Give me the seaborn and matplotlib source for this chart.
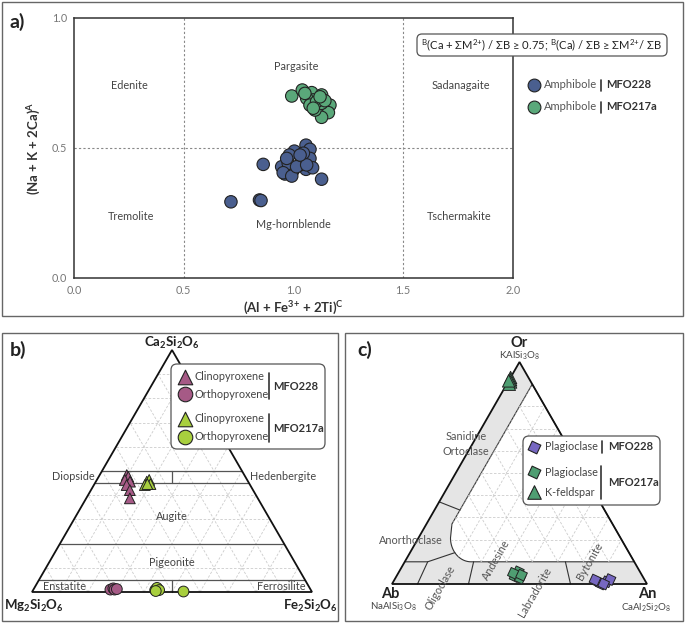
import numpy as np
import pandas as pd
import matplotlib
matplotlib.use("Agg")
import matplotlib.pyplot as plt
import seaborn as sns
from matplotlib.patches import Polygon, FancyBboxPatch, Rectangle

# ---------------- DATA ----------------
# Panel a: amphibole classification, x = (Al + Fe3+ + 2Ti)C, y = (Na + K + 2Ca)A
amph_228_x = [0.715, 0.845, 0.852, 0.862, 1.128, 1.057, 1.004, 0.981, 1.075, 1.037, 1.075, 0.946, 0.961,
              0.999, 1.057, 1.087, 1.030, 0.976, 1.045, 0.953, 0.992, 1.014, 1.060, 0.969, 1.030]
amph_228_y = [0.293, 0.300, 0.298, 0.437, 0.380, 0.511, 0.488, 0.473, 0.495, 0.454, 0.460, 0.428, 0.400,
              0.415, 0.418, 0.424, 0.435, 0.441, 0.480, 0.405, 0.392, 0.428, 0.435, 0.460, 0.473]
amph_217_x = [0.992, 1.040, 1.083, 1.128, 1.166, 1.159, 1.128, 1.098, 1.090, 1.060, 1.128, 1.075, 1.105,
              1.143, 1.052, 1.121, 1.090]
amph_217_y = [0.700, 0.723, 0.713, 0.704, 0.665, 0.636, 0.618, 0.646, 0.685, 0.691, 0.672, 0.665, 0.678,
              0.682, 0.710, 0.697, 0.653]

# Panel b: pyroxene fractions Wo (Ca2Si2O6) and Fs (Fe2Si2O6); En = 1 - Wo - Fs
cpx_228_wo = [0.483, 0.476, 0.463, 0.456, 0.442, 0.421, 0.387]
cpx_228_fs = [0.097, 0.106, 0.100, 0.122, 0.117, 0.139, 0.156]
opx_228_wo = [0.010, 0.015, 0.010, 0.012]
opx_228_fs = [0.275, 0.283, 0.290, 0.297]
cpx_217_wo = [0.456, 0.463, 0.442, 0.446, 0.446]
cpx_217_fs = [0.182, 0.187, 0.182, 0.200, 0.189]
opx_217_wo = [0.008, 0.017, 0.008, 0.004, 0.002]
opx_217_fs = [0.436, 0.438, 0.450, 0.440, 0.540]

# Panel c: feldspar fractions An (CaAl2Si2O8) and Or (KAlSi3O8); Ab = 1 - An - Or
plag_228_an = [0.800, 0.820, 0.837, 0.845, 0.830, 0.787]
plag_228_or = [0.010, 0.000, 0.010, 0.020, 0.000, 0.018]
plag_217_an = [0.468, 0.466, 0.489, 0.452, 0.488]
plag_217_or = [0.055, 0.033, 0.026, 0.048, 0.040]
kfs_217_an = [0.000, 0.005, 0.010, 0.010, 0.000]
kfs_217_or = [0.930, 0.920, 0.910, 0.900, 0.915]

# ---------------- STYLE ----------------
sns.set_theme(style="white")
plt.rcParams["font.family"] = ["Lato", "DejaVu Sans"]
plt.rcParams["mathtext.fontset"] = "custom"
plt.rcParams["mathtext.rm"] = "Lato"
plt.rcParams["mathtext.it"] = "Lato:italic"
plt.rcParams["mathtext.bf"] = "Lato:bold"

C_BLUE = "#4a5f8f"
C_GREEN_A = "#5aa87a"
C_MAUVE = "#a65a86"
C_LIME = "#a8cf3e"
C_PURPLE = "#7667c1"
C_GREEN_F = "#4f9e72"
TXT = "#444444"

W, H = 685, 623
fig = plt.figure(figsize=(W / 100, H / 100), dpi=100)


def rect(x0, y0, x1, y1):
    return [x0 / W, 1 - y1 / H, (x1 - x0) / W, (y1 - y0) / H]


# ================= PANEL A =================
axa = fig.add_axes(rect(74, 18, 513, 278))
dfa = pd.DataFrame({
    "x": amph_228_x + amph_217_x,
    "y": amph_228_y + amph_217_y,
    "sample": ["MFO228"] * len(amph_228_x) + ["MFO217a"] * len(amph_217_x),
})
sns.scatterplot(data=dfa, x="x", y="y", hue="sample",
                palette={"MFO228": C_BLUE, "MFO217a": C_GREEN_A},
                s=80, edgecolor="#222222", linewidth=0.8, legend=False, ax=axa, zorder=3)
axa.set_xlim(0, 2)
axa.set_ylim(0, 1)
axa.set_xticks([0, 0.5, 1.0, 1.5, 2.0])
axa.set_xticklabels(["0.0", "0.5", "1.0", "1.5", "2.0"])
axa.set_yticks([0, 0.5, 1.0])
axa.set_yticklabels(["0.0", "0.5", "1.0"])
axa.tick_params(length=0, labelsize=7.8, labelcolor="#777777", pad=5)
for sp in axa.spines.values():
    sp.set_color("#333333")
    sp.set_linewidth(1.1)
for v in (0.5, 1.5):
    axa.axvline(v, color="#888888", ls=(0, (2, 2)), lw=0.8, zorder=1)
axa.axhline(0.5, color="#888888", ls=(0, (2, 2)), lw=0.8, zorder=1)
axa.set_xlabel(r"(Al + Fe$^{\mathbf{3{+}}}$ + 2Ti)$^{\mathbf{C}}$", fontsize=9.5, fontweight="bold",
               color="#333333", labelpad=3)
axa.set_ylabel(r"(Na + K + 2Ca)$^{\mathbf{A}}$", fontsize=9.5, fontweight="bold", color="#333333",
               labelpad=6)
for txt, x, y in [("Edenite", 0.25, 0.74), ("Pargasite", 1.01, 0.813), ("Sadanagaite", 1.763, 0.74),
                  ("Tremolite", 0.26, 0.235), ("Mg-hornblende", 1.0, 0.204), ("Tschermakite", 1.753, 0.236)]:
    axa.text(x, y, txt, ha="center", va="center", fontsize=7.8, color=TXT)

# ================= CANVAS (pixel coordinates) =================
cv = fig.add_axes([0, 0, 1, 1], facecolor="none")
cv.set_xlim(0, W)
cv.set_ylim(H, 0)
cv.axis("off")

# panel frames
for (x0, y0, x1, y1) in [(2, 2, 683, 316), (2, 333, 338, 621), (345, 333, 683, 621)]:
    cv.add_patch(Rectangle((x0, y0), x1 - x0, y1 - y0, fill=False, ec="#666666", lw=1.0))
for lab, x, y in [("a)", 10, 22), ("b)", 10, 350), ("c)", 357, 350)]:
    cv.text(x, y, lab, fontsize=14, fontweight="bold", ha="left", va="center", color="#222222")

# panel a legend
cv.add_patch(FancyBboxPatch((417, 34), 250, 22, boxstyle="round,pad=0,rounding_size=5",
                            fc="white", ec="#555555", lw=0.9, zorder=5))
cv.text(542, 45.5, r"$^{\mathrm{B}}$(Ca + ΣM$^{2{+}}$) / ΣB ≥ 0.75; $^{\mathrm{B}}$(Ca) / ΣB ≥ ΣM$^{2{+}}$/ ΣB",
        ha="center", va="center", fontsize=8.1, color="#222222", zorder=6)
for yy, col, smp in [(85, C_BLUE, "MFO228"), (107, C_GREEN_A, "MFO217a")]:
    cv.scatter([534], [yy], s=85, color=col, edgecolor="#222222", lw=0.8, zorder=6)
    cv.text(544, yy, "Amphibole", fontsize=8, color="#555555", ha="left", va="center")
    cv.plot([601, 601], [yy - 5.5, yy + 5.5], color="#333333", lw=1.2)
    cv.text(606, yy, smp, fontsize=8, fontweight="bold", color="#333333", ha="left", va="center")

GRID_KW = dict(color="#cccccc", lw=0.6, ls=(0, (3, 2)))

# ================= PANEL B: pyroxene =================
B_TOP, B_L, B_R = (172.0, 350.0), (32.0, 592.0), (312.0, 592.0)


def tb(wo, fs):
    wo = np.asarray(wo, float)
    fs = np.asarray(fs, float)
    en = 1 - wo - fs
    x = wo * B_TOP[0] + en * B_L[0] + fs * B_R[0]
    y = wo * B_TOP[1] + en * B_L[1] + fs * B_R[1]
    return x, y


for k in range(1, 10):
    f = k / 10
    for (a, b) in [((f, 0), (f, 1 - f)), ((0, f), (1 - f, f)), ((0, 1 - f), (1 - f, 0))]:
        x, y = tb([a[0], b[0]], [a[1], b[1]])
        cv.plot(x, y, zorder=1, **GRID_KW)
for wo in (0.5, 0.45, 0.2, 0.05):
    x, y = tb([wo, wo], [0, 1 - wo])
    cv.plot(x, y, color="#555555", lw=0.9, zorder=2)
for w0, w1 in [(0.45, 0.5), (0.0, 0.05)]:
    x, y = tb([w0, w1], [(1 - w0) / 2, (1 - w1) / 2])
    cv.plot(x, y, color="#555555", lw=0.9, zorder=2)
cv.add_patch(Polygon([B_TOP, B_L, B_R], closed=True, fill=False, ec="#111111", lw=1.3, zorder=3))

dfb = pd.DataFrame({
    "wo": cpx_228_wo + opx_228_wo + cpx_217_wo + opx_217_wo,
    "fs": cpx_228_fs + opx_228_fs + cpx_217_fs + opx_217_fs,
    "mineral": (["Clinopyroxene"] * len(cpx_228_wo) + ["Orthopyroxene"] * len(opx_228_wo)
                + ["Clinopyroxene"] * len(cpx_217_wo) + ["Orthopyroxene"] * len(opx_217_wo)),
    "sample": (["MFO228"] * (len(cpx_228_wo) + len(opx_228_wo))
               + ["MFO217a"] * (len(cpx_217_wo) + len(opx_217_wo))),
})
dfb["px"], dfb["py"] = tb(dfb["wo"], dfb["fs"])
sns.scatterplot(data=dfb, x="px", y="py", hue="sample", style="mineral",
                palette={"MFO228": C_MAUVE, "MFO217a": C_LIME},
                markers={"Clinopyroxene": "^", "Orthopyroxene": "o"},
                s=60, edgecolor="#222222", linewidth=0.7, legend=False, ax=cv, zorder=4)

cv.text(172, 343, r"$\mathbf{Ca_2Si_2O_6}$", ha="center", va="center", fontsize=9.5, color="#222222")
cv.text(34, 606, r"$\mathbf{Mg_2Si_2O_6}$", ha="center", va="center", fontsize=9.5, color="#222222")
cv.text(310, 606, r"$\mathbf{Fe_2Si_2O_6}$", ha="center", va="center", fontsize=9.5, color="#222222")
for txt, x, y, ha in [("Diopside", 95, 477, "right"), ("Hedenbergite", 250, 477, "left"),
                      ("Augite", 172, 517, "center"), ("Pigeonite", 172, 563, "center"),
                      ("Enstatite", 65, 587, "center"), ("Ferrosilite", 281, 587, "center")]:
    cv.text(x, y, txt, ha=ha, va="center", fontsize=7.8, color=TXT, zorder=3)

# legend b
cv.add_patch(FancyBboxPatch((171, 364), 154, 85, boxstyle="round,pad=0,rounding_size=6",
                            fc="white", ec="#555555", lw=0.9, zorder=5))
for yy, mk, col, lab in [(377, "^", C_MAUVE, "Clinopyroxene"), (394, "o", C_MAUVE, "Orthopyroxene"),
                         (419, "^", C_LIME, "Clinopyroxene"), (437, "o", C_LIME, "Orthopyroxene")]:
    cv.scatter([185], [yy], marker=mk, s=110, color=col, edgecolor="#222222", lw=0.8, zorder=6)
    cv.text(195, yy, lab, fontsize=7.8, color="#444444", ha="left", va="center", zorder=6)
for y0, y1, smp in [(373, 399, "MFO228"), (414, 442, "MFO217a")]:
    cv.plot([269, 269], [y0, y1], color="#333333", lw=1.2, zorder=6)
    cv.text(273, (y0 + y1) / 2, smp, fontsize=8, fontweight="bold", color="#333333",
            ha="left", va="center", zorder=6)

# ================= PANEL C: feldspar =================
C_AB, C_AN, C_OR = (392.0, 584.0), (647.0, 584.0), (519.5, 362.0)


def tc(an, orr):
    an = np.asarray(an, float)
    orr = np.asarray(orr, float)
    ab = 1 - an - orr
    x = ab * C_AB[0] + an * C_AN[0] + orr * C_OR[0]
    y = ab * C_AB[1] + an * C_AN[1] + orr * C_OR[1]
    return x, y


cv.add_patch(Polygon([C_AB, C_AN, C_OR], closed=True, fc="#e5e5e5", ec="none", zorder=1))

# white (non-feldspar gap) region with a rounded corner near Ab
A = np.array(tc(0.26, 0.1), float)
cx, rx = A[0], A[0] - 450.5
cy = 538.0
ry = A[1] - cy
ts = np.linspace(np.deg2rad(270), np.deg2rad(180), 30)
arc = np.column_stack([cx + rx * np.cos(ts), cy - ry * np.sin(ts)])
Bpt = np.array(tc(0.1, 0.27), float)
white = np.vstack([
    np.array(tc(0.1, 0.9)), np.array(tc(0.9, 0.1)), A, arc, Bpt
])
wpoly = Polygon(white, closed=True, fc="white", ec="#333333", lw=0.8, zorder=2)
cv.add_patch(wpoly)
for k in range(1, 10):
    f = k / 10
    for (p, q) in [((f, 0), (f, 1 - f)), ((0, f), (1 - f, f)), ((0, 1 - f), (1 - f, 0))]:
        x, y = tc([p[0], q[0]], [p[1], q[1]])
        ln, = cv.plot(x, y, zorder=2.5, **GRID_KW)
        ln.set_clip_path(wpoly)

# field boundaries
for r in (0.1, 0.3, 0.7):
    x, y = tc([0.9 * r, r], [0.1, 0.0])
    cv.plot(x, y, color="#333333", lw=0.8, zorder=3)
te = np.deg2rad(218)
e_pt = (cx + rx * np.cos(te), cy - ry * np.sin(te))
x0, y0 = tc(0.0, 0.1)
x1, y1 = tc(0.09, 0.1)
cv.plot([x0, x1, e_pt[0]], [y0, y1, e_pt[1]], color="#333333", lw=0.8, zorder=3)
x, y = tc([0.0, 0.1], [0.37, 0.333])
cv.plot(x, y, color="#333333", lw=0.8, zorder=3)
cv.add_patch(Polygon([C_AB, C_AN, C_OR], closed=True, fill=False, ec="#111111", lw=1.3, zorder=3))

dfc = pd.DataFrame({
    "an": plag_228_an + plag_217_an + kfs_217_an,
    "or": plag_228_or + plag_217_or + kfs_217_or,
    "mineral": (["Plagioclase"] * len(plag_228_an) + ["Plagioclase"] * len(plag_217_an)
                + ["K-feldspar"] * len(kfs_217_an)),
    "sample": ["MFO228"] * len(plag_228_an) + ["MFO217a"] * (len(plag_217_an) + len(kfs_217_an)),
})
dfc["px"], dfc["py"] = tc(dfc["an"], dfc["or"])
sns.scatterplot(data=dfc, x="px", y="py", hue="sample", style="mineral",
                palette={"MFO228": C_PURPLE, "MFO217a": C_GREEN_F},
                markers={"Plagioclase": (4, 0, 20), "K-feldspar": "^"},
                s=80, edgecolor="#222222", linewidth=0.7, legend=False, ax=cv, zorder=4)

cv.text(519, 343, "Or", ha="center", va="center", fontsize=10.5, fontweight="bold", color="#222222")
cv.text(519, 356, r"KAlSi$_3$O$_8$", ha="center", va="center", fontsize=7, color=TXT)
cv.text(390, 594, "Ab", ha="center", va="center", fontsize=10.5, fontweight="bold", color="#222222")
cv.text(393, 607, r"NaAlSi$_3$O$_8$", ha="center", va="center", fontsize=7, color=TXT)
cv.text(647, 594, "An", ha="center", va="center", fontsize=10.5, fontweight="bold", color="#222222")
cv.text(646, 608, r"CaAl$_2$Si$_2$O$_8$", ha="center", va="center", fontsize=7, color=TXT)
cv.text(466, 444, "Sanidine\nOrtoclase", ha="center", va="center", fontsize=7.8, color="#555555",
        linespacing=1.5, zorder=4)
cv.text(411, 541, "Anorthoclase", ha="center", va="center", fontsize=7.8, color="#555555", zorder=4)
for txt, x, y in [("Oligoclase", 440, 588), ("Andesine", 496, 560), ("Labradorite", 535, 592),
                  ("Bytonite", 590, 561)]:
    cv.text(x, y, txt, ha="center", va="center", rotation=60, fontsize=7.8, color="#555555", zorder=4)

# legend c
cv.add_patch(FancyBboxPatch((523, 436), 137, 69, boxstyle="round,pad=0,rounding_size=6",
                            fc="white", ec="#555555", lw=0.9, zorder=5))
for yy, mk, col, lab in [(447, (4, 0, 20), C_PURPLE, "Plagioclase"), (472, (4, 0, 20), C_GREEN_F, "Plagioclase"),
                         (492, "^", C_GREEN_F, "K-feldspar")]:
    cv.scatter([534], [yy], marker=mk, s=95, color=col, edgecolor="#222222", lw=0.8, zorder=6)
    cv.text(545, yy, lab, fontsize=7.8, color="#444444", ha="left", va="center", zorder=6)
cv.plot([602, 602], [441, 453], color="#333333", lw=1.2, zorder=6)
cv.text(608, 447, "MFO228", fontsize=8, fontweight="bold", color="#333333", ha="left", va="center", zorder=6)
cv.plot([601, 601], [466, 499], color="#333333", lw=1.2, zorder=6)
cv.text(608, 483, "MFO217a", fontsize=8, fontweight="bold", color="#333333", ha="left", va="center", zorder=6)

fig.savefig("out.png", dpi=100)
